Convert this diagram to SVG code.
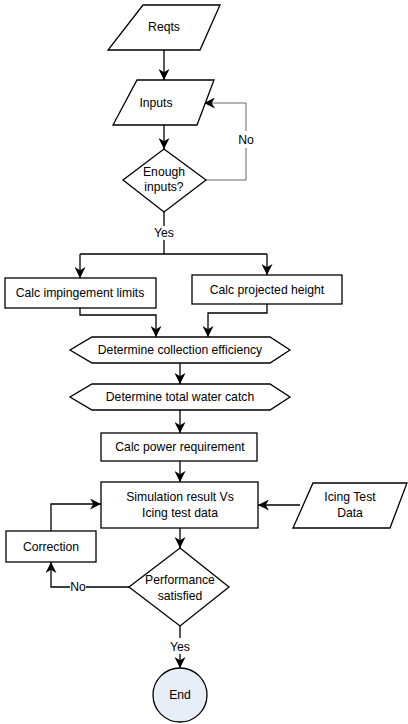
<svg xmlns="http://www.w3.org/2000/svg" width="408" height="724" viewBox="0 0 408 724">
<defs>
<marker id="ahl" viewBox="0 0 10 10" refX="10" refY="5" markerWidth="11" markerHeight="11" markerUnits="userSpaceOnUse" orient="auto"><path d="M0,0 L10,5 L0,10 L3,5 z" fill="#000"/></marker>
</defs>
<style>
.s{fill:#fff;stroke:#000;stroke-width:1.3}
.t{font-family:"Liberation Sans",Arial,sans-serif;font-size:12.2px;fill:#000;text-anchor:middle}
.c{fill:none;stroke:#000;stroke-width:1.3}
.g{fill:none;stroke:#555;stroke-width:0.9}
.lb{font-family:"Liberation Sans",Arial,sans-serif;font-size:12.2px;fill:#000;text-anchor:middle}
</style>
<rect width="408" height="724" fill="#fff"/>
<g id="connectors">
<path class="c" d="M164,50 V80" marker-end="url(#ahl)"/>
<path class="c" d="M164,125 V149" marker-end="url(#ahl)"/>
<path class="g" d="M206,180 H246 V148 M246,131 V103 H204" marker-end="url(#ahl)"/>
<path class="c" d="M164,212 V226 M164,240 V254"/>
<path class="c" d="M80,254 H267"/>
<path class="c" d="M80,254 V278" marker-end="url(#ahl)"/>
<path class="c" d="M267,254 V275" marker-end="url(#ahl)"/>
<path class="c" d="M80,308 V315 H156 V337" marker-end="url(#ahl)"/>
<path class="c" d="M267,304 V313 H208 V337" marker-end="url(#ahl)"/>
<path class="c" d="M180,363 V384" marker-end="url(#ahl)"/>
<path class="c" d="M180,410 V433" marker-end="url(#ahl)"/>
<path class="c" d="M180,461 V482" marker-end="url(#ahl)"/>
<path class="c" d="M300,505 H258" marker-end="url(#ahl)"/>
<path class="c" d="M51,531 V504 H101" marker-end="url(#ahl)"/>
<path class="c" d="M180,528 V548" marker-end="url(#ahl)"/>
<path class="c" d="M129,587 H86 M70,587 H51 V562" marker-end="url(#ahl)"/>
<path class="c" d="M180,626 V638 M180,654 V668" marker-end="url(#ahl)"/>
<text class="lb" x="246" y="144">No</text>
<text class="lb" x="164" y="237">Yes</text>
<text class="lb" x="78" y="591">No</text>
<text class="lb" x="180" y="651">Yes</text>
</g>
<g id="reqts"><polygon class="s" points="143,5 220,5 200,50 108,50"/><text class="t" x="164" y="31">Reqts</text></g>
<g id="inputs"><polygon class="s" points="137,80 214,80 197,125 113,125"/><text class="t" x="156" y="107">Inputs</text></g>
<g id="enough"><polygon class="s" points="164,149 206,180 164,212 123,180"/><text class="t" x="164" y="176">Enough</text><text class="t" x="164" y="191">inputs?</text></g>
<g id="impingement"><rect class="s" x="5" y="278" width="151" height="30"/><text class="t" x="80" y="297">Calc impingement limits</text></g>
<g id="projected"><rect class="s" x="192" y="275" width="150" height="29"/><text class="t" x="267" y="294">Calc projected height</text></g>
<g id="collection"><polygon class="s" points="92,337 270,337 290,350 270,363 92,363 70,350"/><text class="t" x="180" y="354">Determine collection efficiency</text></g>
<g id="water"><polygon class="s" points="92,384 270,384 290,397 270,410 92,410 70,397"/><text class="t" x="180" y="401">Determine total water catch</text></g>
<g id="power"><rect class="s" x="101" y="433" width="156" height="28"/><text class="t" x="180" y="451">Calc power requirement</text></g>
<g id="simulation"><rect class="s" x="101" y="482" width="157" height="46"/><text class="t" x="180" y="501">Simulation result Vs</text><text class="t" x="180" y="517">Icing test data</text></g>
<g id="icing"><polygon class="s" points="313,483 407,483 390,528 293,528"/><text class="t" x="350" y="501">Icing Test</text><text class="t" x="350" y="517">Data</text></g>
<g id="correction"><rect class="s" x="6" y="531" width="90" height="31"/><text class="t" x="51" y="551">Correction</text></g>
<g id="performance"><polygon class="s" points="180,548 229,587 180,626 129,587"/><text class="t" x="180" y="584">Performance</text><text class="t" x="180" y="600">satisfied</text></g>
<g id="end"><circle cx="180" cy="695" r="27" fill="#e8eef7" stroke="#000" stroke-width="1.3"/><text class="t" x="180" y="699">End</text></g>
</svg>
